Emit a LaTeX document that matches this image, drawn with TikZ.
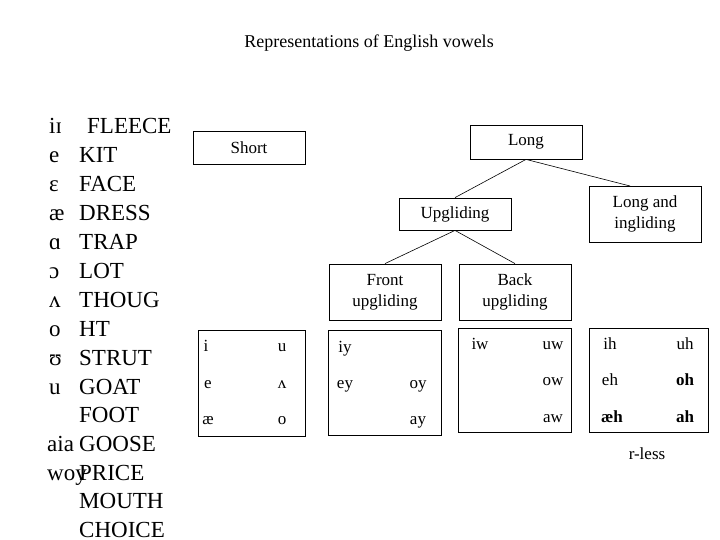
\documentclass[tikz,border=0pt]{standalone}
\usepackage{fontspec}
\setmainfont{Liberation Serif}
\begin{document}
\begin{tikzpicture}[x=1pt,y=-1pt,
  bx/.style={draw,line width=0.8pt,minimum width=112pt,inner sep=0pt,align=center,font=\fontsize{17}{21}\selectfont},
  lst/.style={anchor=west,inner sep=0pt,text height=15pt,text depth=5pt,yshift=-3pt,font=\fontsize{23}{23}\selectfont},
  cell/.style={inner sep=0pt,text height=12pt,text depth=4pt,font=\fontsize{17}{17}\selectfont},
  ln/.style={line width=0.6pt}]
\useasboundingbox (0,0) rectangle (720,540);
\node[inner sep=0pt,font=\fontsize{18}{18}\selectfont] (title) at (369,43) {Representations of English vowels};
% left list
\foreach \s/\y [count=\i] in {iɪ/126,e/155,ɛ/184,æ/213,ɑ/241,ɔ/270,ʌ/299,o/328,ʊ/357,u/386}
  \node[lst] (s\i) at (49,\y) {\s};
\node[lst] (s11) at (47,443) {aia};
\node[lst] (s12) at (47,472) {woy};
\node[lst] (w1) at (87,126) {FLEECE};
\foreach \w/\y [count=\i from 2] in {KIT/155,FACE/184,DRESS/213,TRAP/241,LOT/270,THOUG/299,HT/328,STRUT/357,GOAT/386,FOOT/414,GOOSE/443,PRICE/472,MOUTH/500,CHOICE/529}
  \node[lst] (w\i) at (79,\y) {\w};
% boxes
\node[bx,minimum height=33pt] (short) at (249,148) {Short};
\node[bx,minimum height=34pt] (long) at (526,142) {Long};
\node[bx,minimum height=32pt] (up) at (455,214) {Upgliding};
\node[bx,minimum height=56pt] (lai) at (645,214) {Long and\\ingliding};
\node[bx,minimum height=56pt] (front) at (385,292) {Front\\upgliding};
\node[bx,minimum height=56pt] (back) at (515,292) {Back\\upgliding};
\draw[ln] (long.south) -- (up.north);
\draw[ln] (long.south) -- (630,186) coordinate (laitop);
\draw[ln] (up.south) -- (front.north);
\draw[ln] (up.south) -- (back.north);
% bottom boxes
\node[draw,line width=0.8pt,minimum width=107pt,minimum height=106pt,inner sep=0pt] (b1) at (251.5,383) {};
\node[draw,line width=0.8pt,minimum width=113pt,minimum height=105pt,inner sep=0pt] (b2) at (384.5,382.5) {};
\node[draw,line width=0.8pt,minimum width=113pt,minimum height=104pt,inner sep=0pt] (b3) at (514.5,380) {};
\node[draw,line width=0.8pt,minimum width=119pt,minimum height=104pt,inner sep=0pt] (b4) at (648.5,380) {};
\node[cell] (c1) at (206,347) {i};
\node[cell] (c2) at (282,347) {u};
\node[cell] (c3) at (208,384) {e};
\node[cell] (c4) at (282,384) {ʌ};
\node[cell] (c5) at (208,420) {æ};
\node[cell] (c6) at (282,420) {o};
\node[cell] (c7) at (345,348) {iy};
\node[cell] (c8) at (345,384) {ey};
\node[cell] (c9) at (418,384) {oy};
\node[cell] (c10) at (418,420) {ay};
\node[cell] (c11) at (480,345) {iw};
\node[cell] (c12) at (553,345) {uw};
\node[cell] (c13) at (553,381) {ow};
\node[cell] (c14) at (553,418) {aw};
\node[cell] (c15) at (610,345) {ih};
\node[cell] (c16) at (685,345) {uh};
\node[cell] (c17) at (610,381) {eh};
\node[cell,font=\fontsize{17}{17}\selectfont\bfseries] (c18) at (685,381) {oh};
\node[cell,font=\fontsize{17}{17}\selectfont\bfseries] (c19) at (612,418) {æh};
\node[cell,font=\fontsize{17}{17}\selectfont\bfseries] (c20) at (685,418) {ah};
\node[cell] (rless) at (647,455) {r-less};
\end{tikzpicture}
\end{document}
